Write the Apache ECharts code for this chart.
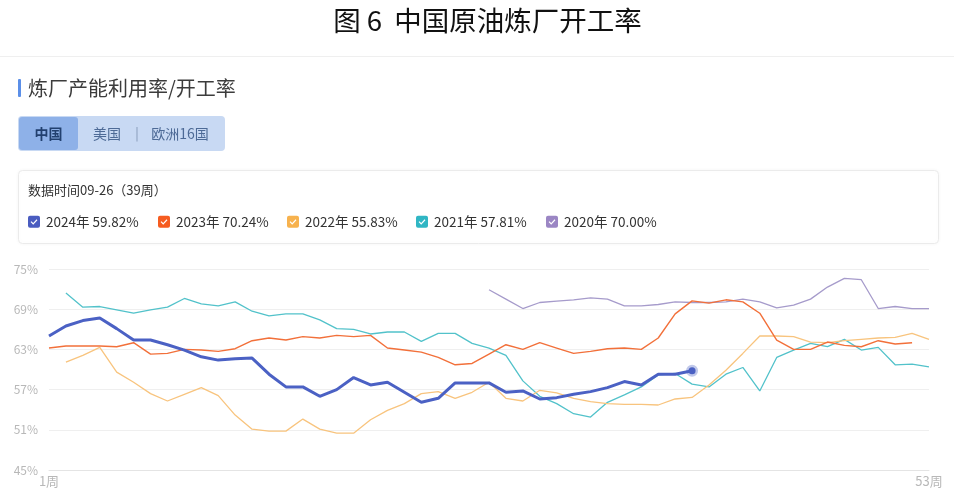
<!DOCTYPE html>
<html>
<head>
<meta charset="utf-8">
<script src="https://cdn.jsdelivr.net/npm/echarts@6/dist/echarts.min.js"></script>
<style>
html,body{margin:0;padding:0;background:#fff;}
#main{width:954px;height:500px;}
</style>
</head>
<body>
<div id="main"></div>
<script>
// ---- data ----
const weeks = Array.from({length: 53}, (_, i) => (i + 1) + '周');
const years = ['2024年', '2023年', '2022年', '2021年', '2020年'];
const y2024 = [65.0, 66.5, 67.3, 67.7, 66.1, 64.4, 64.4, 63.7, 62.9, 61.9, 61.4, 61.6, 61.7, 59.3, 57.4, 57.4, 56.0, 57.0, 58.8, 57.7, 58.1, 56.6, 55.1, 55.7, 58.0, 58.0, 58.0, 56.6, 56.8, 55.6, 55.8, 56.3, 56.7, 57.3, 58.2, 57.7, 59.3, 59.3, 59.82];
const y2023 = [63.2, 63.5, 63.5, 63.5, 63.4, 64.0, 62.3, 62.4, 63.0, 62.9, 62.7, 63.1, 64.3, 64.7, 64.4, 64.9, 64.7, 65.1, 64.9, 65.1, 63.2, 62.9, 62.6, 61.8, 60.7, 60.9, 62.3, 63.7, 63.0, 64.0, 63.2, 62.4, 62.7, 63.1, 63.2, 63.0, 64.7, 68.3, 70.24, 69.9, 70.4, 70.1, 68.4, 64.4, 63.0, 63.0, 64.1, 63.6, 63.4, 64.3, 63.8, 64.0];
const y2022 = [null, 61.1, 62.1, 63.3, 59.6, 58.1, 56.4, 55.3, 56.3, 57.3, 56.1, 53.2, 51.1, 50.8, 50.8, 52.6, 51.1, 50.5, 50.5, 52.5, 53.9, 54.9, 56.4, 56.7, 55.7, 56.6, 58.1, 55.7, 55.3, 56.9, 56.5, 55.7, 55.2, 54.9, 54.8, 54.8, 54.7, 55.6, 55.83, 57.7, 59.9, 62.4, 65.0, 65.0, 64.9, 64.1, 64.0, 64.3, 64.5, 64.7, 64.8, 65.4, 64.5];
const y2021 = [null, 71.4, 69.3, 69.4, 68.9, 68.4, 68.9, 69.3, 70.6, 69.8, 69.5, 70.1, 68.7, 68.0, 68.3, 68.3, 67.4, 66.1, 66.0, 65.3, 65.6, 65.6, 64.2, 65.4, 65.4, 63.9, 63.2, 62.1, 58.3, 56.0, 54.9, 53.4, 52.9, 55.1, 56.2, 57.4, 59.2, 59.4, 57.81, 57.4, 59.3, 60.3, 56.8, 61.8, 62.9, 63.9, 63.4, 64.5, 62.9, 63.3, 60.7, 60.8, 60.4];
const y2020 = [null, null, null, null, null, null, null, null, null, null, null, null, null, null, null, null, null, null, null, null, null, null, null, null, null, null, 71.9, 70.5, 69.1, 70.0, 70.2, 70.4, 70.7, 70.5, 69.5, 69.5, 69.7, 70.1, 70.00, 70.0, 70.1, 70.5, 70.1, 69.2, 69.6, 70.5, 72.3, 73.6, 73.4, 69.1, 69.4, 69.1, 69.1];
const currentWeekIndex = 38; // 39周
const dataDate = '09-26';
const yMin = 45, yMax = 75, yStep = 6;
const tabLabels = ['中国', '美国', '欧洲16国'];

// ---- styles ----
const lineColors = ['#4b61c4', '#f2703a', '#f8c47e', '#52c2ca', '#a69bcb'];
const iconColors = ['#4a5cc0', '#f65c20', '#f7b24e', '#30b6c4', '#9b86c4'];
const lineWidths = [3, 1.4, 1.3, 1.3, 1.3];
const seriesData = [y2024, y2023, y2022, y2021, y2020];

const checkIcon = 'path://M2 0 L10 0 Q12 0 12 2 L12 10 Q12 12 10 12 L2 12 Q0 12 0 10 L0 2 Q0 0 2 0 Z M2.6 6.3 L5.2 8.9 L9.4 4.4 L8.6 3.6 L5.2 7.3 L3.4 5.5 Z';
const legendLefts = [23, 153, 282, 411, 541];

const chart = echarts.init(document.getElementById('main'), null, {renderer: 'canvas'});

const series = years.map((name, i) => {
  const arr = seriesData[i];
  const data = arr.map((v, k) => {
    if (i === 0 && k === arr.length - 1) {
      return {value: v, symbol: 'circle', symbolSize: 7,
        itemStyle: {color: lineColors[0], borderColor: 'rgba(75,97,196,0.35)', borderWidth: 5}};
    }
    return v;
  });
  return {
    name: name,
    type: 'line',
    data: data,
    symbol: 'none',
    showSymbol: true,
    showAllSymbol: true,
    smooth: false,
    z: 10 - i,
    itemStyle: {color: lineColors[i]},
    lineStyle: {color: lineColors[i], width: lineWidths[i]},
    emphasis: {disabled: true}
  };
}).reverse();

const legends = years.map((name, i) => ({
  left: legendLefts[i],
  top: 210,
  itemWidth: 12,
  itemHeight: 12,
  itemGap: 0,
  selectedMode: false,
  icon: checkIcon,
  data: [{name: name, itemStyle: {color: iconColors[i]}}],
  textStyle: {fontSize: 13.5, color: '#333', fontFamily: 'Noto Sans CJK SC', padding: [0, 0, 0, 1]},
  formatter: (n) => n + ' ' + seriesData[i][currentWeekIndex].toFixed(2) + '%'
}));

const option = {
  animation: false,
  backgroundColor: '#fff',
  textStyle: {fontFamily: 'Noto Sans CJK SC'},
  graphic: [
    {type: 'text', x: 487.5, y: 21,
      style: {text: '图 6  中国原油炼厂开工率', fontSize: 27.5, fill: '#111', fontFamily: 'Noto Sans CJK SC', fontWeight: 'normal', align: 'center', verticalAlign: 'middle'}},
    {type: 'rect', shape: {x: 0, y: 56, width: 954, height: 1}, style: {fill: '#efefef'}},
    {type: 'rect', shape: {x: 18, y: 79, width: 3, height: 18, r: 1}, style: {fill: '#5b8fe8'}},
    {type: 'text', x: 28, y: 88,
      style: {text: '炼厂产能利用率/开工率', fontSize: 20, fill: '#3c3c3c', fontFamily: 'Noto Sans CJK SC', verticalAlign: 'middle'}},
    {type: 'rect', shape: {x: 18, y: 116, width: 207, height: 35, r: 4}, style: {fill: '#c8d9f3'}},
    {type: 'rect', shape: {x: 19, y: 117, width: 59, height: 33, r: 3}, style: {fill: '#8eb1e8'}},
    {type: 'text', x: 48.5, y: 133.5,
      style: {text: tabLabels[0], fontSize: 14, fontWeight: 'bold', fill: '#22406f', align: 'center', verticalAlign: 'middle', fontFamily: 'Noto Sans CJK SC'}},
    {type: 'text', x: 107, y: 133.5,
      style: {text: tabLabels[1], fontSize: 14, fill: '#4d6a96', align: 'center', verticalAlign: 'middle', fontFamily: 'Noto Sans CJK SC'}},
    {type: 'text', x: 137, y: 133,
      style: {text: '|', fontSize: 13, fill: '#8396b6', align: 'center', verticalAlign: 'middle', fontFamily: 'Noto Sans CJK SC'}},
    {type: 'text', x: 180, y: 133.5,
      style: {text: tabLabels[2], fontSize: 14, fill: '#4d6a96', align: 'center', verticalAlign: 'middle', fontFamily: 'Noto Sans CJK SC'}},
    {type: 'rect', z: -1, shape: {x: 18.5, y: 170.5, width: 920, height: 73, r: 4},
      style: {fill: '#fff', stroke: '#ebebeb', lineWidth: 1, shadowBlur: 4, shadowColor: 'rgba(0,0,0,0.04)'}},
    {type: 'text', x: 28, y: 190,
      style: {text: '数据时间' + dataDate + '（' + (currentWeekIndex + 1) + '周）', fontSize: 13, fill: '#333', verticalAlign: 'middle', fontFamily: 'Noto Sans CJK SC'}}
  ],
  legend: legends,
  grid: {left: 49, right: 25, top: 269, bottom: 30, containLabel: false},
  xAxis: {
    type: 'category',
    data: weeks,
    boundaryGap: false,
    axisLine: {lineStyle: {color: '#e4e4e4'}},
    axisTick: {show: false},
    axisLabel: {
      color: '#b8b8b8', fontSize: 13, margin: 5,
      interval: (idx) => idx === 0 || idx === weeks.length - 1,
      showMinLabel: true, showMaxLabel: true
    },
    splitLine: {show: false}
  },
  yAxis: {
    type: 'value',
    min: yMin, max: yMax, interval: yStep,
    axisLine: {show: false},
    axisTick: {show: false},
    axisLabel: {color: '#b8b8b8', fontSize: 12, margin: 11, formatter: (v) => v + '%'},
    splitLine: {lineStyle: {color: '#efefef'}}
  },
  series: series
};
chart.setOption(option);
</script>
</body>
</html>
